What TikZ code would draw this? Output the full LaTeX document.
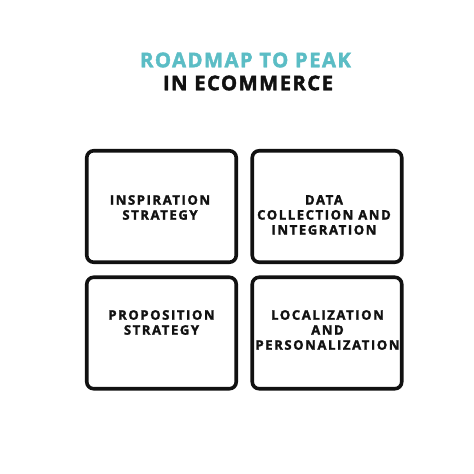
\documentclass[tikz,border=0pt]{standalone}
\usepackage{fontspec}
\setmainfont{Open Sans}
\newfontfamily\boxfont[LetterSpace=12,BoldFeatures={FakeBold=1.8}]{Open Sans}
\newfontfamily\titlefont[LetterSpace=7,BoldFeatures={FakeBold=2}]{Open Sans}
\definecolor{teal1}{HTML}{5BBDC5}
\definecolor{ink}{HTML}{111111}
\begin{document}
\begin{tikzpicture}[x=1pt,y=-1pt,
  card/.style={draw=ink, line width=3.6pt, rounded corners=7pt, minimum width=149.5pt, minimum height=111.5pt, inner sep=0pt},
  cardtext/.style={anchor=north, align=center, font=\boxfont\bfseries\fontsize{13.1}{15}\selectfont, text=ink, inner sep=0pt},
  title/.style={font=\titlefont\bfseries\fontsize{20.3}{23}\selectfont, inner sep=0pt}]
\useasboundingbox[fill=white] (0,0) rectangle (474,474);
\node[title, text=teal1] (t1) at (245.5,60) {ROADMAP TO PEAK};
\node[title, text=ink] (t2) at (248,83) {IN ECOMMERCE};
\node[card] (b1) at (161.5,206.5) {};
\node[card] (b2) at (327,206.5) {};
\node[card] (b3) at (161.5,333) {};
\node[card] (b4) at (327,333) {};
\node[cardtext] (l1) at (160,195) {INSPIRATION\\STRATEGY};
\node[cardtext] (l2) at (324,195) {DATA\\COLLECTION AND\\INTEGRATION};
\node[cardtext] (l3) at (161.5,310) {PROPOSITION\\STRATEGY};
\node[cardtext] (l4) at (327.5,310) {LOCALIZATION\\AND\\PERSONALIZATION};
\end{tikzpicture}
\end{document}
